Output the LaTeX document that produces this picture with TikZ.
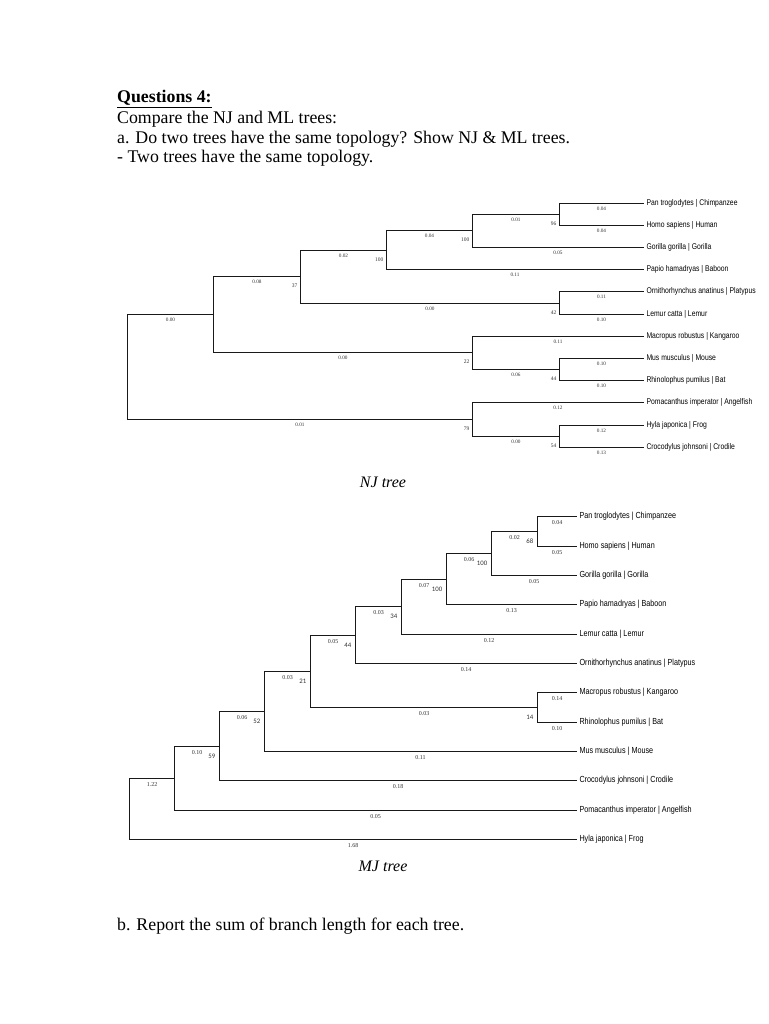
\documentclass[tikz,border=0pt]{standalone}
\usepackage{fontspec}
\setmainfont{Liberation Serif}
\newfontfamily\taxonfont[FakeStretch=0.82]{Liberation Sans}
\newfontfamily\bootfont{Carlito}
\usetikzlibrary{positioning}

\begin{document}
\begin{tikzpicture}[x=1pt,y=-1pt,
    branch/.style={line width=1.4pt,black!90},
    para/.style={font=\fontsize{17.8}{20}\selectfont,anchor=base west,inner sep=0},
    treecap/.style={font=\fontsize{16}{18}\selectfont\itshape,inner sep=0},
    njtaxon/.style={font=\taxonfont\fontsize{8.3}{9}\selectfont,anchor=west,inner xsep=3pt,inner ysep=0,outer sep=0},
    mltaxon/.style={font=\taxonfont\fontsize{8.8}{9}\selectfont,anchor=west,inner xsep=3pt,inner ysep=0,outer sep=0},
    njlen/.style={font=\fontsize{5.2}{6}\selectfont,pos=0.75,anchor=north,yshift=-3.3pt,inner sep=0,black!80},
    mllen/.style={font=\fontsize{6}{7}\selectfont,pos=0.75,anchor=north,yshift=-3.6pt,inner sep=0,black!80},
    njboot/.style={font=\fontsize{5.5}{6}\selectfont,anchor=north east,xshift=-3pt,yshift=-6.7pt,inner sep=0,black!80},
    mlboot/.style={font=\bootfont\fontsize{6.8}{7}\selectfont,anchor=north east,xshift=-4pt,yshift=-7.3pt,inner sep=0,black!80}]
  \useasboundingbox[fill=white] (0,0) rectangle (768,1024);

  % question text
  \node[para] (qhead) at (117,103) {\textbf{\underline{Questions 4:}}};
  \node[para] (qline1) at (117,123.5) {Compare the NJ and ML trees:};
  \node[para] (qline2) at (117,143.5) {a. Do two trees have the same topology? Show NJ \& ML trees.};
  \node[para] (qline3) at (117,162.5) {- Two trees have the same topology.};
  \node[para] (qline4) at (117,930) {b. Report the sum of branch length for each tree.};

  % ---------------- NJ tree ----------------
  \node[njtaxon] (nj1)  at (643.5,203.5) {Pan troglodytes | Chimpanzee};
  \node[njtaxon] (nj2)  at (643.5,225.5) {Homo sapiens | Human};
  \node[njtaxon] (nj3)  at (643.5,247.5) {Gorilla gorilla | Gorilla};
  \node[njtaxon] (nj4)  at (643.5,269.5) {Papio hamadryas | Baboon};
  \node[njtaxon] (nj5)  at (643.5,291.5) {Ornithorhynchus anatinus | Platypus};
  \node[njtaxon] (nj6)  at (643.5,314.5) {Lemur catta | Lemur};
  \node[njtaxon] (nj7)  at (643.5,336.5) {Macropus robustus | Kangaroo};
  \node[njtaxon] (nj8)  at (643.5,358.5) {Mus musculus | Mouse};
  \node[njtaxon] (nj9)  at (643.5,380.5) {Rhinolophus pumilus | Bat};
  \node[njtaxon] (nj10) at (643.5,402.5) {Pomacanthus imperator | Angelfish};
  \node[njtaxon] (nj11) at (643.5,425.5) {Hyla japonica | Frog};
  \node[njtaxon] (nj12) at (643.5,447.5) {Crocodylus johnsoni | Crodile};
  % inner nodes
  \coordinate (njroot) at (127.5,367.5);
  \coordinate (njh) at (213.5,314.5);
  \coordinate (nje) at (300.5,276.5);
  \coordinate (njc) at (386.5,250.5);
  \coordinate (njb) at (472.5,230.5);
  \coordinate (nja) at (559.5,214.5);
  \coordinate (njd) at (559.5,303.5);
  \coordinate (njg) at (472.5,352.5);
  \coordinate (njf) at (559.5,369.5);
  \coordinate (njj) at (472.5,419.5);
  \coordinate (nji) at (559.5,436.5);
  % branches
  \draw[branch] (njroot) |- node[njlen]{0.00} (njh);
  \draw[branch] (njroot) |- node[njlen]{0.01} (njj);
  \draw[branch] (njh) |- node[njlen]{0.08} (nje);
  \draw[branch] (njh) |- node[njlen]{0.00} (njg);
  \draw[branch] (nje) |- node[njlen]{0.02} (njc);
  \draw[branch] (nje) |- node[njlen]{0.00} (njd);
  \draw[branch] (njc) |- node[njlen]{0.04} (njb);
  \draw[branch] (njc) |- node[njlen]{0.11} (nj4);
  \draw[branch] (njb) |- node[njlen]{0.01} (nja);
  \draw[branch] (njb) |- node[njlen]{0.05} (nj3);
  \draw[branch] (nja) |- node[njlen]{0.04} (nj1);
  \draw[branch] (nja) |- node[njlen]{0.04} (nj2);
  \draw[branch] (njd) |- node[njlen]{0.11} (nj5);
  \draw[branch] (njd) |- node[njlen]{0.10} (nj6);
  \draw[branch] (njg) |- node[njlen]{0.11} (nj7);
  \draw[branch] (njg) |- node[njlen]{0.06} (njf);
  \draw[branch] (njf) |- node[njlen]{0.10} (nj8);
  \draw[branch] (njf) |- node[njlen]{0.10} (nj9);
  \draw[branch] (njj) |- node[njlen]{0.12} (nj10);
  \draw[branch] (njj) |- node[njlen]{0.00} (nji);
  \draw[branch] (nji) |- node[njlen]{0.12} (nj11);
  \draw[branch] (nji) |- node[njlen]{0.13} (nj12);
  % bootstrap values
  \node[njboot] (njbse) at (nje) {37};
  \node[njboot] (njbsc) at (njc) {100};
  \node[njboot] (njbsb) at (njb) {100};
  \node[njboot] (njbsa) at (nja) {96};
  \node[njboot] (njbsd) at (njd) {42};
  \node[njboot] (njbsg) at (njg) {22};
  \node[njboot] (njbsf) at (njf) {44};
  \node[njboot] (njbsj) at (njj) {79};
  \node[njboot] (njbsi) at (nji) {54};
  \node[treecap] (njcap) at (383,482) {NJ tree};

  % ---------------- ML tree ----------------
  \node[mltaxon] (ml1)  at (576.5,516.5) {Pan troglodytes | Chimpanzee};
  \node[mltaxon] (ml2)  at (576.5,546.5) {Homo sapiens | Human};
  \node[mltaxon] (ml3)  at (576.5,575.5) {Gorilla gorilla | Gorilla};
  \node[mltaxon] (ml4)  at (576.5,604.5) {Papio hamadryas | Baboon};
  \node[mltaxon] (ml5)  at (576.5,634.5) {Lemur catta | Lemur};
  \node[mltaxon] (ml6)  at (576.5,663.5) {Ornithorhynchus anatinus | Platypus};
  \node[mltaxon] (ml7)  at (576.5,692.5) {Macropus robustus | Kangaroo};
  \node[mltaxon] (ml8)  at (576.5,722.5) {Rhinolophus pumilus | Bat};
  \node[mltaxon] (ml9)  at (576.5,751.5) {Mus musculus | Mouse};
  \node[mltaxon] (ml10) at (576.5,780.5) {Crocodylus johnsoni | Crodile};
  \node[mltaxon] (ml11) at (576.5,810.5) {Pomacanthus imperator | Angelfish};
  \node[mltaxon] (ml12) at (576.5,839.5) {Hyla japonica | Frog};
  % inner nodes
  \coordinate (mlroot) at (129.5,808.5);
  \coordinate (mlj) at (174.5,778.5);
  \coordinate (mli) at (219.5,746.5);
  \coordinate (mlh) at (264.5,711.5);
  \coordinate (mlg) at (310.5,671.5);
  \coordinate (mle) at (355.5,635.5);
  \coordinate (mld) at (401.5,606.5);
  \coordinate (mlc) at (446.5,579.5);
  \coordinate (mlb) at (491.5,553.5);
  \coordinate (mla) at (537.5,531.5);
  \coordinate (mlf) at (537.5,707.5);
  % branches
  \draw[branch] (mlroot) |- node[mllen]{1.22} (mlj);
  \draw[branch] (mlroot) |- node[mllen]{1.68} (ml12);
  \draw[branch] (mlj) |- node[mllen]{0.10} (mli);
  \draw[branch] (mlj) |- node[mllen]{0.05} (ml11);
  \draw[branch] (mli) |- node[mllen]{0.06} (mlh);
  \draw[branch] (mli) |- node[mllen]{0.18} (ml10);
  \draw[branch] (mlh) |- node[mllen]{0.03} (mlg);
  \draw[branch] (mlh) |- node[mllen]{0.11} (ml9);
  \draw[branch] (mlg) |- node[mllen]{0.05} (mle);
  \draw[branch] (mlg) |- node[mllen]{0.03} (mlf);
  \draw[branch] (mle) |- node[mllen]{0.03} (mld);
  \draw[branch] (mle) |- node[mllen]{0.14} (ml6);
  \draw[branch] (mld) |- node[mllen]{0.07} (mlc);
  \draw[branch] (mld) |- node[mllen]{0.12} (ml5);
  \draw[branch] (mlc) |- node[mllen]{0.06} (mlb);
  \draw[branch] (mlc) |- node[mllen]{0.13} (ml4);
  \draw[branch] (mlb) |- node[mllen]{0.02} (mla);
  \draw[branch] (mlb) |- node[mllen]{0.05} (ml3);
  \draw[branch] (mla) |- node[mllen]{0.04} (ml1);
  \draw[branch] (mla) |- node[mllen]{0.05} (ml2);
  \draw[branch] (mlf) |- node[mllen]{0.14} (ml7);
  \draw[branch] (mlf) |- node[mllen]{0.10} (ml8);
  % bootstrap values
  \node[mlboot] (mlbsi) at (mli) {59};
  \node[mlboot] (mlbsh) at (mlh) {52};
  \node[mlboot] (mlbsg) at (mlg) {21};
  \node[mlboot] (mlbse) at (mle) {44};
  \node[mlboot] (mlbsd) at (mld) {34};
  \node[mlboot] (mlbsc) at (mlc) {100};
  \node[mlboot] (mlbsb) at (mlb) {100};
  \node[mlboot] (mlbsa) at (mla) {68};
  \node[mlboot] (mlbsf) at (mlf) {14};
  \node[treecap] (mlcap) at (383,866) {MJ tree};
\end{tikzpicture}
\end{document}
